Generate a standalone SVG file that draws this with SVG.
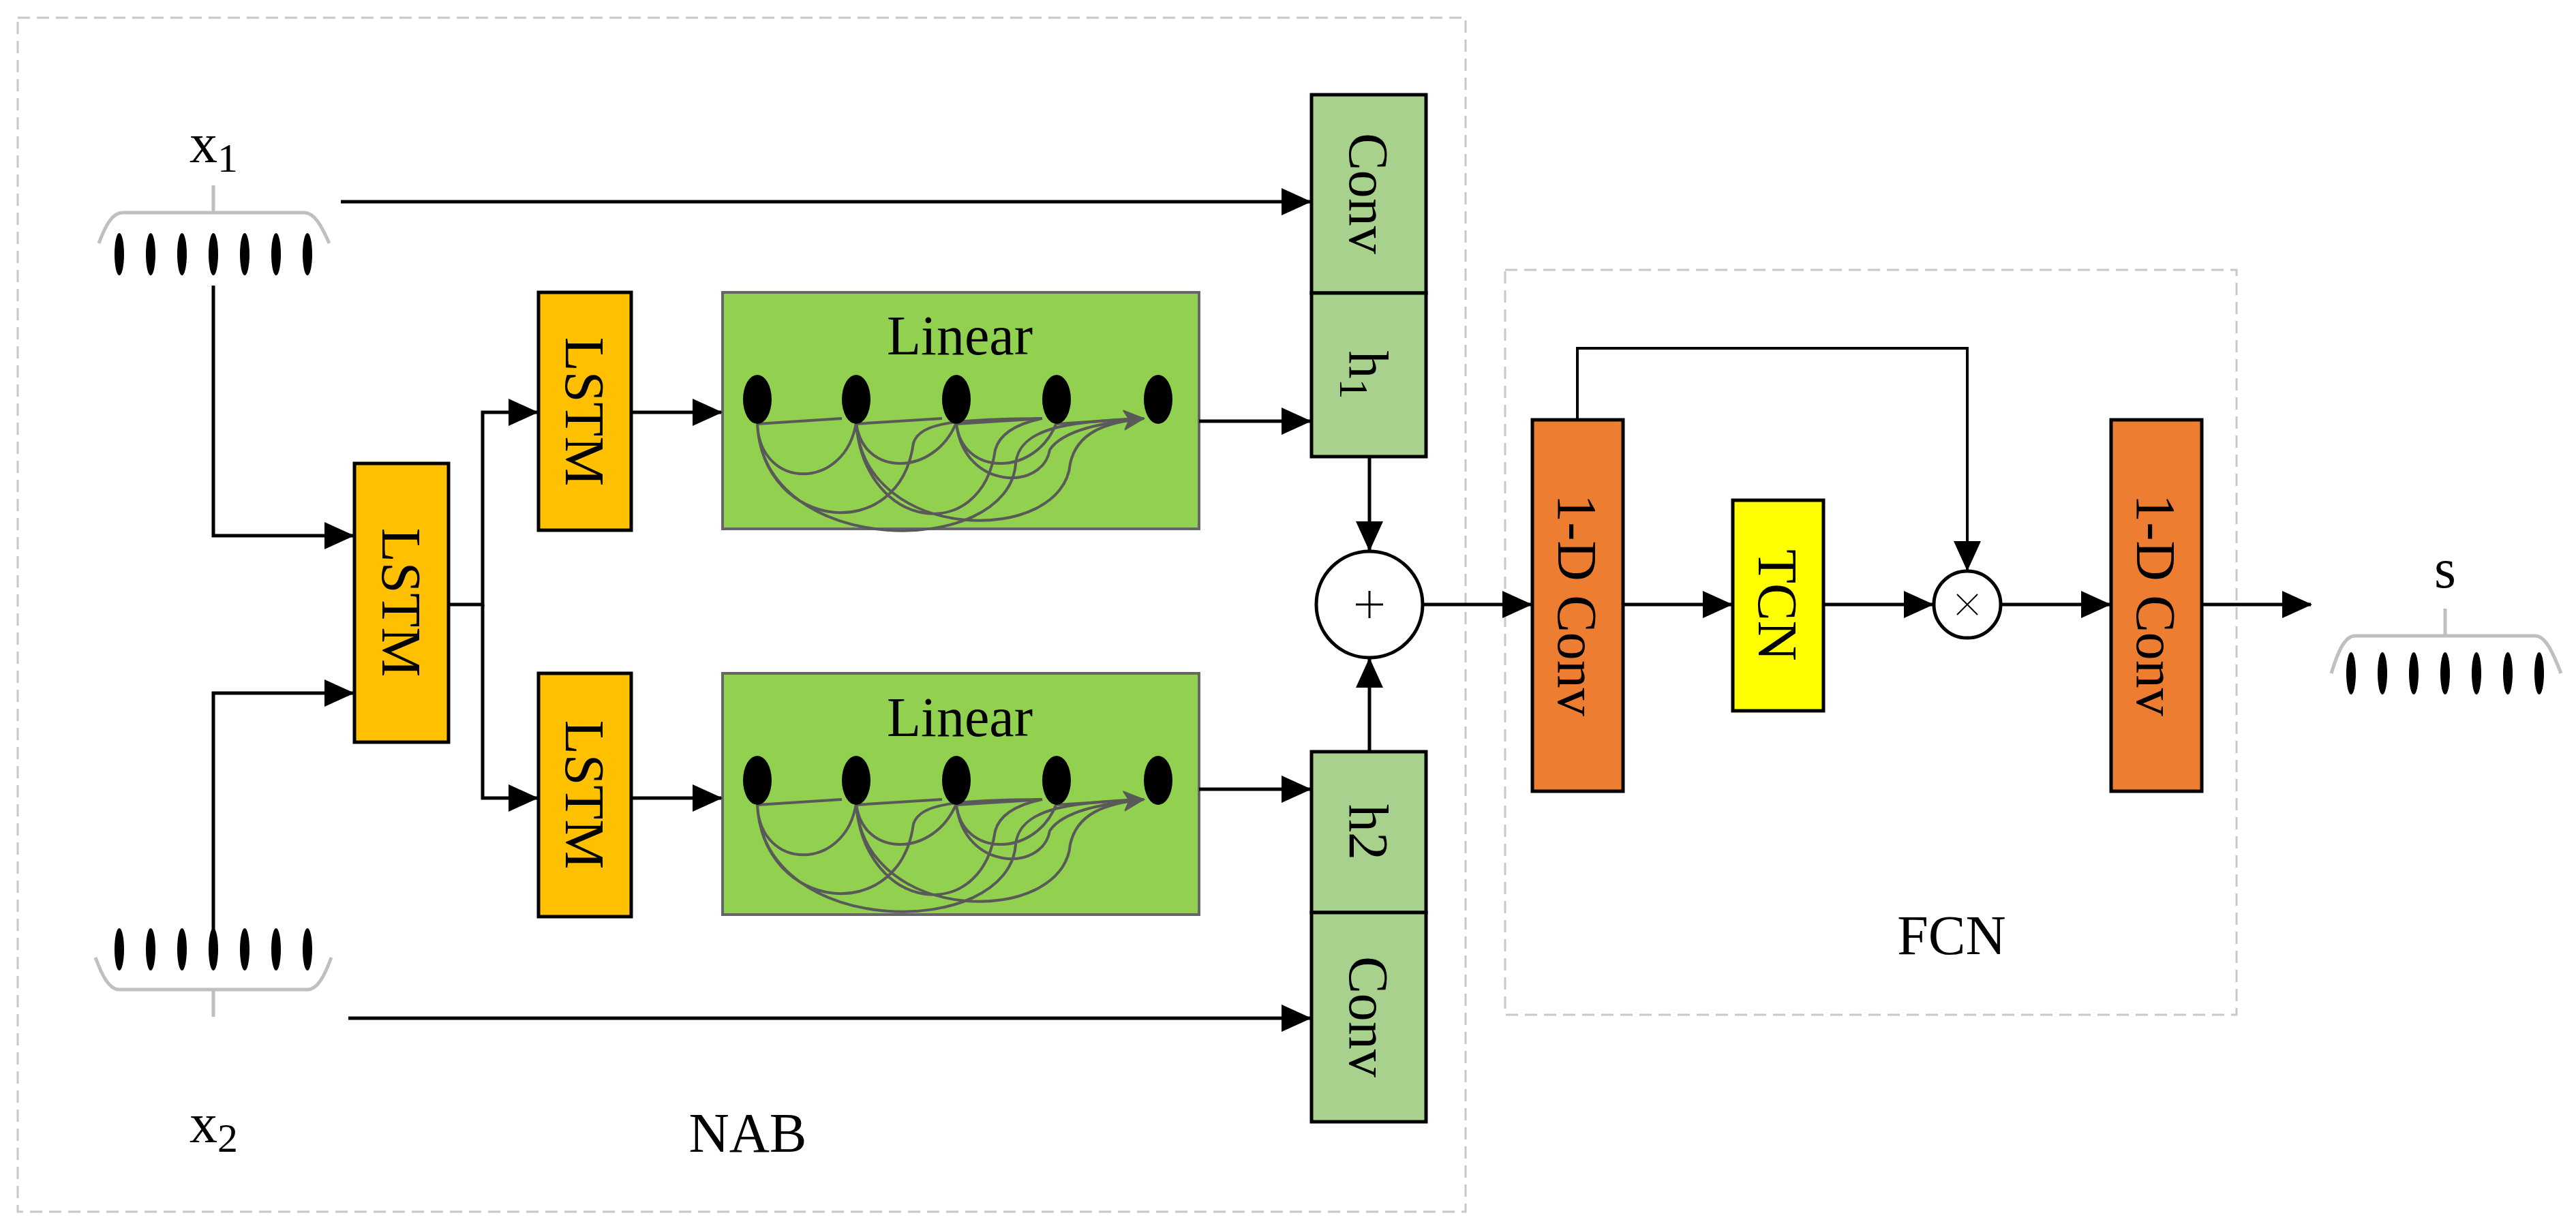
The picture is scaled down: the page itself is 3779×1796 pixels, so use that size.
<svg xmlns="http://www.w3.org/2000/svg" width="3779" height="1796" viewBox="0 0 3779 1796">
<defs>
<marker id="ah" markerUnits="userSpaceOnUse" markerWidth="44" markerHeight="40" refX="42" refY="20" orient="auto"><path d="M0,0 L44,20 L0,40 Z" fill="#000"/></marker>
<marker id="ag" markerUnits="userSpaceOnUse" markerWidth="32" markerHeight="30" refX="30" refY="15" orient="auto"><path d="M0,0 L32,15 L0,30 L8,15 Z" fill="#595959"/></marker>
<g id="nodesrow">
<path d="M1111,622 L1235,614 M1256,622 L1382,614 M1403,622 L1529,614 M1550,622 L1678,614" fill="none" stroke="#595959" stroke-width="4" marker-end="url(#ag)"/>
<path d="M1111,622 C1115,720 1240,720 1256,620 C1265,700 1370,700 1403,620 C1410,700 1520,700 1550,620 M1111,622 C1120,780 1320,800 1340,650 C1350,620 1400,615 1529,614 M1111,622 C1120,820 1480,820 1490,680 C1495,630 1560,618 1678,614 M1256,622 C1270,780 1440,800 1460,660 C1470,625 1520,616 1529,614 M1256,622 C1270,800 1560,800 1570,680 C1580,635 1620,620 1678,614 M1403,622 C1415,720 1530,720 1540,660 C1560,630 1620,620 1678,614" fill="none" stroke="#595959" stroke-width="4" marker-end="url(#ag)"/>
<ellipse cx="1111" cy="586" rx="21" ry="36"/><ellipse cx="1256" cy="586" rx="21" ry="36"/><ellipse cx="1403" cy="586" rx="21" ry="36"/><ellipse cx="1550" cy="586" rx="21" ry="36"/><ellipse cx="1699" cy="586" rx="21" ry="36"/>
</g>
<g id="ovals">
<ellipse cx="-138" cy="0" rx="7" ry="31"/><ellipse cx="-92" cy="0" rx="7" ry="31"/><ellipse cx="-46" cy="0" rx="7" ry="31"/><ellipse cx="0" cy="0" rx="7" ry="31"/><ellipse cx="46" cy="0" rx="7" ry="31"/><ellipse cx="92" cy="0" rx="7" ry="31"/><ellipse cx="138" cy="0" rx="7" ry="31"/>
</g>
</defs>
<style>
text{font-family:"Liberation Serif","Times New Roman",serif;fill:#000}
.t{font-size:82px}
.box{stroke:#000;stroke-width:5}
.lstm{fill:#FFC000}
.lin{fill:#92D050;stroke:#666;stroke-width:4}
.conv{fill:#A9D18E}
.oc{fill:#ED7D31}
.tcn{fill:#FFFF00}
.dash{fill:none;stroke:#c8c8c8;stroke-width:3;stroke-dasharray:18 10}
.br{fill:none;stroke:#bfbfbf;stroke-width:5}
.ov ellipse{fill:#b3b3b3;stroke:#555;stroke-width:3}
.nr ellipse{fill:#fff;stroke:#595959;stroke-width:4}
.c{fill:none;stroke:#000;stroke-width:5}
</style>
<rect width="3779" height="1796" fill="#fff"/>
<g id="nab"><rect x="26" y="26" width="2124" height="1752" class="dash"/><text x="1097" y="1690" class="t" text-anchor="middle">NAB</text></g>
<g id="fcn"><rect x="2208" y="396" width="1073" height="1093" class="dash"/><text x="2863" y="1400" class="t" text-anchor="middle">FCN</text></g>

<g id="x1">
<text x="278" y="238" class="t">x<tspan font-size="60" dy="14">1</tspan></text>
<path class="br" d="M313,272 V312 M145,357 C155,330 165,312 180,312 H446 C461,312 471,330 483,357"/>
<g class="ov" transform="translate(313,373)"><use href="#ovals"/></g>
</g>
<g id="x2">
<g class="ov" transform="translate(313,1393)"><use href="#ovals"/></g>
<path class="br" d="M313,1452 V1492 M140,1405 C150,1432 160,1452 175,1452 H451 C466,1452 476,1432 486,1405"/>
<text x="278" y="1676" class="t">x<tspan font-size="60" dy="14">2</tspan></text>
</g>
<g id="s">
<text x="3587" y="862" class="t" text-anchor="middle">s</text>
<path class="br" d="M3587,893 V933 M3420,988 C3430,955 3440,933 3455,933 H3719 C3734,933 3744,955 3757,988"/>
<g class="ov" transform="translate(3587,988)"><use href="#ovals"/></g>
</g>

<g id="lstm1"><rect x="520" y="680" width="138" height="409" class="box lstm"/><text class="t" transform="translate(589,884) rotate(90)" text-anchor="middle" dy="28">LSTM</text></g>
<g id="lstm2"><rect x="790" y="429" width="136" height="349" class="box lstm"/><text class="t" transform="translate(858,604) rotate(90)" text-anchor="middle" dy="28">LSTM</text></g>
<g id="lstm3"><rect x="790" y="988" width="136" height="357" class="box lstm"/><text class="t" transform="translate(858,1166) rotate(90)" text-anchor="middle" dy="28">LSTM</text></g>
<g id="linear1"><rect x="1060" y="429" width="699" height="347" class="lin"/><text x="1408" y="520" class="t" text-anchor="middle">Linear</text><g class="nr"><use href="#nodesrow"/></g></g>
<g id="linear2"><rect x="1060" y="988" width="699" height="354" class="lin"/><text x="1408" y="1080" class="t" text-anchor="middle">Linear</text><g class="nr" transform="translate(0,559)"><use href="#nodesrow"/></g></g>
<g id="conv1"><rect x="1924" y="139" width="168" height="291" class="box conv"/><text class="t" transform="translate(2008,284) rotate(90)" text-anchor="middle" dy="28">Conv</text></g>
<g id="h1"><rect x="1924" y="430" width="168" height="240" class="box conv"/><text class="t" transform="translate(2008,550) rotate(90)" text-anchor="middle" dy="28">h<tspan font-size="60" dy="14">1</tspan></text></g>
<g id="h2"><rect x="1924" y="1103" width="168" height="236" class="box conv"/><text class="t" transform="translate(2008,1221) rotate(90)" text-anchor="middle" dy="28">h2</text></g>
<g id="conv2"><rect x="1924" y="1339" width="168" height="307" class="box conv"/><text class="t" transform="translate(2008,1492) rotate(90)" text-anchor="middle" dy="28">Conv</text></g>
<g id="plus"><circle cx="2009" cy="887" r="78" fill="#fff" stroke="#000" stroke-width="5"/><path d="M1989,887 H2029 M2009,867 V907" stroke="#000" stroke-width="3"/></g>
<g id="oneconv1"><rect x="2248" y="616" width="133" height="545" class="box oc"/><text class="t" transform="translate(2314,888) rotate(90)" text-anchor="middle" dy="28">1-D Conv</text></g>
<g id="tcn"><rect x="2542" y="734" width="133" height="309" class="box tcn"/><text class="t" transform="translate(2608,888) rotate(90)" text-anchor="middle" dy="28">TCN</text></g>
<g id="times"><circle cx="2886" cy="887" r="49" fill="#fff" stroke="#000" stroke-width="5"/><path d="M2871,872 L2901,902 M2901,872 L2871,902" stroke="#000" stroke-width="2"/></g>
<g id="oneconv2"><rect x="3097" y="616" width="133" height="545" class="box oc"/><text class="t" transform="translate(3163,888) rotate(90)" text-anchor="middle" dy="28">1-D Conv</text></g>

<g id="connectors" class="c">
<path d="M500,296 H1922" marker-end="url(#ah)"/>
<path d="M313,419 V786 H518" marker-end="url(#ah)"/>
<path d="M313,1395 V1017 H518" marker-end="url(#ah)"/>
<path d="M658,887 H708 V605 H788" marker-end="url(#ah)"/>
<path d="M708,887 V1171 H788" marker-end="url(#ah)"/>
<path d="M926,605 H1058" marker-end="url(#ah)"/>
<path d="M926,1171 H1058" marker-end="url(#ah)"/>
<path d="M1759,618 H1922" marker-end="url(#ah)"/>
<path d="M1759,1158 H1922" marker-end="url(#ah)"/>
<path d="M511,1494 H1922" marker-end="url(#ah)"/>
<path d="M2009,670 V807" marker-end="url(#ah)"/>
<path d="M2009,1103 V967" marker-end="url(#ah)"/>
<path d="M2087,887 H2246" marker-end="url(#ah)"/>
<path d="M2381,887 H2540" marker-end="url(#ah)"/>
<path d="M2675,887 H2835" marker-end="url(#ah)"/>
<path d="M2314,616 V511 H2886 V836" marker-end="url(#ah)" stroke-width="4"/>
<path d="M2935,887 H3095" marker-end="url(#ah)"/>
<path d="M3230,887 H3390" marker-end="url(#ah)"/>
</g>
</svg>
